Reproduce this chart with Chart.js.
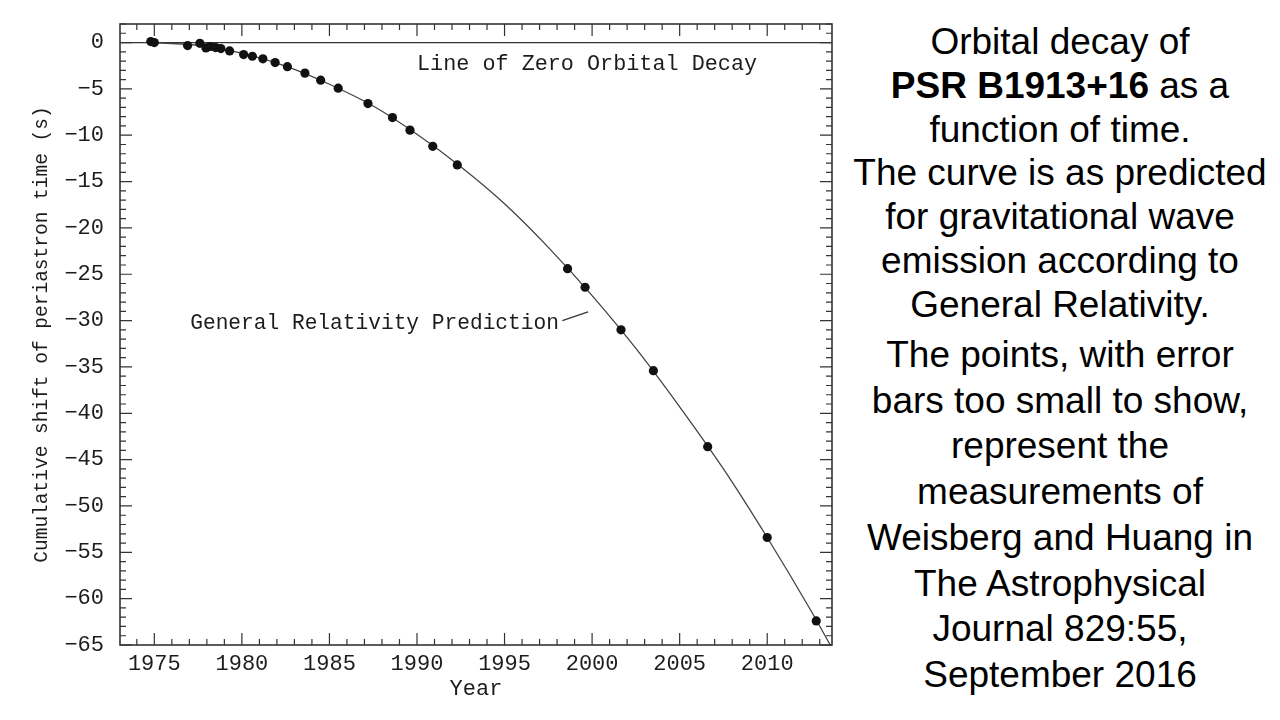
<!DOCTYPE html>
<html>
<head>
<meta charset="utf-8">
<script src="https://cdn.jsdelivr.net/npm/chart.js@4.4.1/dist/chart.umd.min.js"></script>
<style>
html, body { margin: 0; padding: 0; background: #fff; }
body { width: 1280px; height: 720px; position: relative; overflow: hidden; }
#chart { position: absolute; left: 0; top: 0; }
.caption { position: absolute; left: 845px; width: 430px; margin: 0;
  font-family: "Liberation Sans", Arial, sans-serif; font-size: 37px; color: #000;
  text-align: center; white-space: nowrap; }
</style>
</head>
<body>
<canvas id="chart" width="845" height="720"></canvas>
<p class="caption" style="top:20px; line-height:43.8px">Orbital decay of<br><b>PSR B1913+16</b> as a<br>function of time.<br>The curve is as predicted<br>for gravitational wave<br>emission according to<br>General Relativity.</p>
<p class="caption" style="top:332px; line-height:45.7px">The points, with error<br>bars too small to show,<br>represent the<br>measurements of<br>Weisberg and Huang in<br>The Astrophysical<br>Journal 829:55,<br>September 2016</p>
<script>
// measured points (year, cumulative periastron shift in s)
const obsYears = [1974.8, 1975.0, 1976.9, 1977.6, 1977.95, 1978.2, 1978.5, 1978.8, 1979.3, 1980.1,
  1980.6, 1981.2, 1981.9, 1982.6, 1983.6, 1984.5, 1985.5, 1987.2, 1988.6, 1989.6,
  1990.9, 1992.3, 1998.6, 1999.6, 2001.65, 2003.5, 2006.6, 2010.0, 2012.8];
const obsShift = [0.1, 0.0, -0.33, -0.08, -0.58, -0.43, -0.54, -0.65, -0.9, -1.3,
  -1.48, -1.76, -2.16, -2.6, -3.3, -4.06, -4.92, -6.58, -8.1, -9.45,
  -11.2, -13.2, -24.4, -26.4, -31.0, -35.4, -43.6, -53.4, -62.4];

// general relativity curve
const grYears = [1974.8, 1977.5, 1980, 1982.5, 1985, 1987.5, 1990, 1992.5, 1995, 1997.5,
  2000, 2002.5, 2005, 2007.5, 2010, 2012.5, 2013.6];
const grShift = [0, -0.3, -1.15, -2.55, -4.5, -6.85, -9.9, -13.4, -17.4, -22.1,
  -27.3, -33.0, -39.3, -46.0, -53.4, -61.3, -65];

const xTickYears = [1975, 1980, 1985, 1990, 1995, 2000, 2005, 2010];
const yTickValues = [-65, -60, -55, -50, -45, -40, -35, -30, -25, -20, -15, -10, -5, 0];

const xMin = 1973.04, xMax = 2013.7;
const yMin = -65, yMax = 2;

const plotFont = '"Liberation Mono", "DejaVu Sans Mono", monospace';
const ink = '#1c1c1c';

// inward ticks on all four sides, frame box and the two text labels
const frameTicks = {
  id: 'frameTicks',
  afterDatasetsDraw(chart) {
    const { ctx, chartArea: a, scales: { x, y } } = chart;
    ctx.save();
    ctx.strokeStyle = '#333';
    ctx.lineWidth = 1.2;
    ctx.beginPath();
    for (let yr = Math.ceil(xMin); yr <= xMax; yr++) {
      const px = x.getPixelForValue(yr);
      const len = xTickYears.includes(yr) ? 12 : 6;
      ctx.moveTo(px, a.bottom); ctx.lineTo(px, a.bottom - len);
      ctx.moveTo(px, a.top); ctx.lineTo(px, a.top + len);
    }
    for (let v = yMin; v <= yMax; v++) {
      const py = y.getPixelForValue(v);
      const len = yTickValues.includes(v) ? 12 : 6;
      ctx.moveTo(a.left, py); ctx.lineTo(a.left + len, py);
      ctx.moveTo(a.right, py); ctx.lineTo(a.right - len, py);
    }
    ctx.stroke();
    ctx.lineWidth = 1.6;
    ctx.strokeRect(a.left, a.top, a.right - a.left, a.bottom - a.top);

    ctx.fillStyle = ink;
    ctx.textBaseline = 'middle';
    ctx.textAlign = 'left';
    ctx.font = '21.8px ' + plotFont;
    ctx.fillText('Line of Zero Orbital Decay', x.getPixelForValue(1990.0), y.getPixelForValue(-2.34));
    ctx.font = '21.2px ' + plotFont;
    ctx.fillText('General Relativity Prediction', x.getPixelForValue(1977.05), y.getPixelForValue(-30.28));

    ctx.lineWidth = 1.2;
    ctx.beginPath();
    ctx.moveTo(x.getPixelForValue(1998.3), y.getPixelForValue(-30.0));
    ctx.lineTo(x.getPixelForValue(1999.77), y.getPixelForValue(-29.06));
    ctx.stroke();
    ctx.restore();
  }
};

new Chart(document.getElementById('chart'), {
  type: 'scatter',
  data: {
    datasets: [{
      label: 'Weisberg & Huang',
      data: obsYears.map((t, i) => ({ x: t, y: obsShift[i] })),
      pointRadius: 4.6,
      pointBackgroundColor: '#111',
      pointBorderColor: '#111',
      pointBorderWidth: 0,
      showLine: false
    }, {
      label: 'General Relativity Prediction',
      data: grYears.map((t, i) => ({ x: t, y: grShift[i] })),
      showLine: true,
      pointRadius: 0,
      borderColor: '#444',
      borderWidth: 1.3,
      cubicInterpolationMode: 'monotone'
    }, {
      label: 'Line of Zero Orbital Decay',
      data: [{ x: xMin, y: 0 }, { x: xMax, y: 0 }],
      showLine: true,
      pointRadius: 0,
      borderColor: '#333',
      borderWidth: 1.3
    }]
  },
  options: {
    responsive: false,
    animation: false,
    layout: { padding: { left: 0, right: 13, top: 24, bottom: 0 } },
    plugins: { legend: { display: false }, tooltip: { enabled: false } },
    scales: {
      x: {
        type: 'linear',
        min: xMin,
        max: xMax,
        grid: { display: false, drawTicks: false },
        border: { display: false },
        afterBuildTicks: (s) => { s.ticks = xTickYears.map(v => ({ value: v })); },
        afterFit: (s) => { s.height = 75; s.paddingLeft = 0; s.paddingRight = 0; },
        ticks: { color: ink, padding: 6, maxRotation: 0, font: { family: plotFont, size: 22 },
          callback: (v) => String(v) },
        title: { display: true, text: 'Year', color: ink, padding: { top: 0, bottom: 18 },
          font: { family: plotFont, size: 22 } }
      },
      y: {
        type: 'linear',
        min: yMin,
        max: yMax,
        grid: { display: false, drawTicks: false },
        border: { display: false },
        afterBuildTicks: (s) => { s.ticks = yTickValues.map(v => ({ value: v })); },
        // fixed axis box so the plot frame lands where it does in the figure
        afterFit: (s) => { s.width = 120; s.paddingTop = 0; s.paddingBottom = 0; },
        ticks: {
          color: ink, padding: 16, font: { family: plotFont, size: 22 },
          callback: (v) => (v < 0 ? '\u2212' + Math.abs(v) : String(v))
        },
        title: { display: true, text: 'Cumulative shift of periastron time (s)', color: ink,
          padding: { top: 30, bottom: 0 }, font: { family: plotFont, size: 19.5 } }
      }
    }
  },
  plugins: [frameTicks]
});
</script>
</body>
</html>
